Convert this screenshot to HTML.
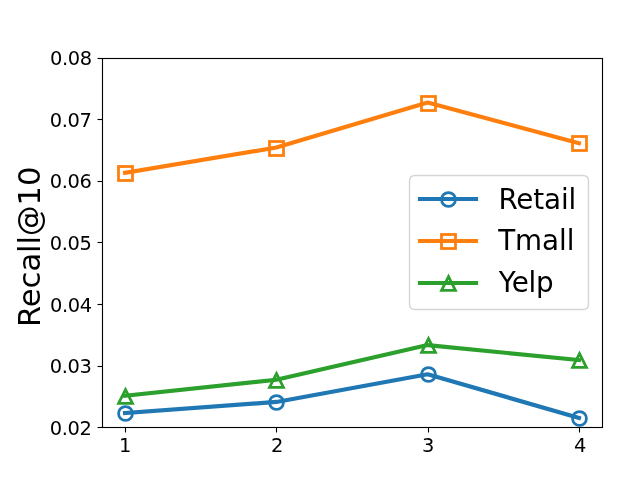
<!DOCTYPE html>
<html lang="en">
<head>
<meta charset="utf-8">
<title>Recall@10</title>
<style>
html,body{margin:0;padding:0;background:#ffffff;}
body{width:640px;height:480px;overflow:hidden;}
svg{display:block;}
</style>
</head>
<body>
<svg width="640" height="480" viewBox="0 0 640 480" font-family='"DejaVu Sans", "Liberation Sans", sans-serif'>
<defs><clipPath id="ax"><rect x="102.4" y="57.6" width="499.2" height="369.6"/></clipPath></defs>
<rect width="640" height="480" fill="#ffffff"/>
<g stroke="#000000" stroke-width="1.111" fill="none">
<path d="M125.5 427.5V432.5"/>
<path d="M276.5 427.5V432.5"/>
<path d="M428.5 427.5V432.5"/>
<path d="M579.5 427.5V432.5"/>
<path d="M102.5 427.5H97.5"/>
<path d="M102.5 366.5H97.5"/>
<path d="M102.5 304.5H97.5"/>
<path d="M102.5 242.5H97.5"/>
<path d="M102.5 181.5H97.5"/>
<path d="M102.5 119.5H97.5"/>
<path d="M102.5 58.5H97.5"/>
</g>
<g font-size="19.444" fill="#000000">
<text id="xt1" x="125.091" y="451.697" text-anchor="middle">1</text>
<text id="xt2" x="277.104" y="451.697" text-anchor="middle">2</text>
<text id="xt3" x="428.166" y="451.697" text-anchor="middle">3</text>
<text id="xt4" x="580.129" y="451.697" text-anchor="middle">4</text>
<text id="yt02" x="91.978" y="434.587" text-anchor="end" textLength="42.281" lengthAdjust="spacing">0.02</text>
<text id="yt03" x="91.978" y="372.987" text-anchor="end" textLength="42.281" lengthAdjust="spacing">0.03</text>
<text id="yt04" x="92.228" y="312.387" text-anchor="end" textLength="42.281" lengthAdjust="spacing">0.04</text>
<text id="yt05" x="91.978" y="249.787" text-anchor="end" textLength="42.281" lengthAdjust="spacing">0.05</text>
<text id="yt06" x="91.978" y="188.187" text-anchor="end" textLength="42.281" lengthAdjust="spacing">0.06</text>
<text id="yt07" x="91.978" y="126.587" text-anchor="end" textLength="42.281" lengthAdjust="spacing">0.07</text>
<text id="yt08" x="92.228" y="64.987" text-anchor="end" textLength="42.281" lengthAdjust="spacing">0.08</text>
</g>
<text id="ylabel" font-size="30.556" text-anchor="middle" transform="translate(40 246.78) rotate(-90)">Recall@10</text>
<g clip-path="url(#ax)">
<polyline points="125.091,413.032 276.364,401.944 427.636,374.224 578.909,417.96" fill="none" stroke="#1f77b4" stroke-width="4.167" stroke-linecap="square" stroke-linejoin="round"/>
<circle cx="125.5" cy="413.5" r="6.944" fill="none" stroke="#1f77b4" stroke-width="2.778"/>
<circle cx="276.5" cy="402.5" r="6.944" fill="none" stroke="#1f77b4" stroke-width="2.778"/>
<circle cx="428.5" cy="374.5" r="6.944" fill="none" stroke="#1f77b4" stroke-width="2.778"/>
<circle cx="579.5" cy="418.5" r="6.944" fill="none" stroke="#1f77b4" stroke-width="2.778"/>
</g>
<g clip-path="url(#ax)">
<polyline points="125.091,172.792 276.364,147.536 427.636,102.568 578.909,143.224" fill="none" stroke="#ff7f0e" stroke-width="4.167" stroke-linecap="square" stroke-linejoin="round"/>
<rect x="118.5" y="166.5" width="14" height="14" fill="none" stroke="#ff7f0e" stroke-width="2.778" stroke-linejoin="miter"/>
<rect x="269.5" y="141.5" width="14" height="14" fill="none" stroke="#ff7f0e" stroke-width="2.778" stroke-linejoin="miter"/>
<rect x="421.5" y="96.5" width="14" height="14" fill="none" stroke="#ff7f0e" stroke-width="2.778" stroke-linejoin="miter"/>
<rect x="572.5" y="136.5" width="14" height="14" fill="none" stroke="#ff7f0e" stroke-width="2.778" stroke-linejoin="miter"/>
</g>
<g clip-path="url(#ax)">
<polyline points="125.091,395.784 276.364,379.768 427.636,345.087 578.909,360.056" fill="none" stroke="#2ca02c" stroke-width="4.167" stroke-linecap="square" stroke-linejoin="round"/>
<path d="M125.5 389.556L118.556 403.444L132.444 403.444Z" fill="none" stroke="#2ca02c" stroke-width="2.778" stroke-linejoin="miter"/>
<path d="M276.5 373.556L269.556 387.444L283.444 387.444Z" fill="none" stroke="#2ca02c" stroke-width="2.778" stroke-linejoin="miter"/>
<path d="M428.5 338.556L421.556 352.444L435.444 352.444Z" fill="none" stroke="#2ca02c" stroke-width="2.778" stroke-linejoin="miter"/>
<path d="M579.5 353.556L572.556 367.444L586.444 367.444Z" fill="none" stroke="#2ca02c" stroke-width="2.778" stroke-linejoin="miter"/>
</g>
<rect x="102.5" y="58.5" width="500" height="369" fill="none" stroke="#000000" stroke-width="1.111"/>
<path d="M415.056 309.5H582.944Q588.5 309.5 588.5 303.944V181.056Q588.5 175.5 582.944 175.5H415.056Q409.5 175.5 409.5 181.056V303.944Q409.5 309.5 415.056 309.5Z" fill="#ffffff" stroke="#cccccc" stroke-width="1.389" stroke-linejoin="miter" opacity="0.8"/>
<path d="M420 199H476" fill="none" stroke="#1f77b4" stroke-width="4.167" stroke-linecap="square"/>
<circle cx="448.5" cy="199.5" r="6.944" fill="none" stroke="#1f77b4" stroke-width="2.778"/>
<text id="lgRetail" x="498.45" y="209.25" textLength="77.719" lengthAdjust="spacing" font-size="27.778" fill="#000000">Retail</text>
<path d="M420 241H476" fill="none" stroke="#ff7f0e" stroke-width="4.167" stroke-linecap="square"/>
<rect x="441.5" y="234.5" width="14" height="14" fill="none" stroke="#ff7f0e" stroke-width="2.778" stroke-linejoin="miter"/>
<text id="lgTmall" x="498.2" y="250.1" textLength="76.203" lengthAdjust="spacing" font-size="27.778" fill="#000000">Tmall</text>
<path d="M420 283H476" fill="none" stroke="#2ca02c" stroke-width="4.167" stroke-linecap="square"/>
<path d="M448.5 276.556L441.556 290.444L455.444 290.444Z" fill="none" stroke="#2ca02c" stroke-width="2.778" stroke-linejoin="miter"/>
<text id="lgYelp" x="498.7" y="291.85" textLength="54.953" lengthAdjust="spacing" font-size="27.778" fill="#000000">Yelp</text>
</svg>
</body>
</html>
